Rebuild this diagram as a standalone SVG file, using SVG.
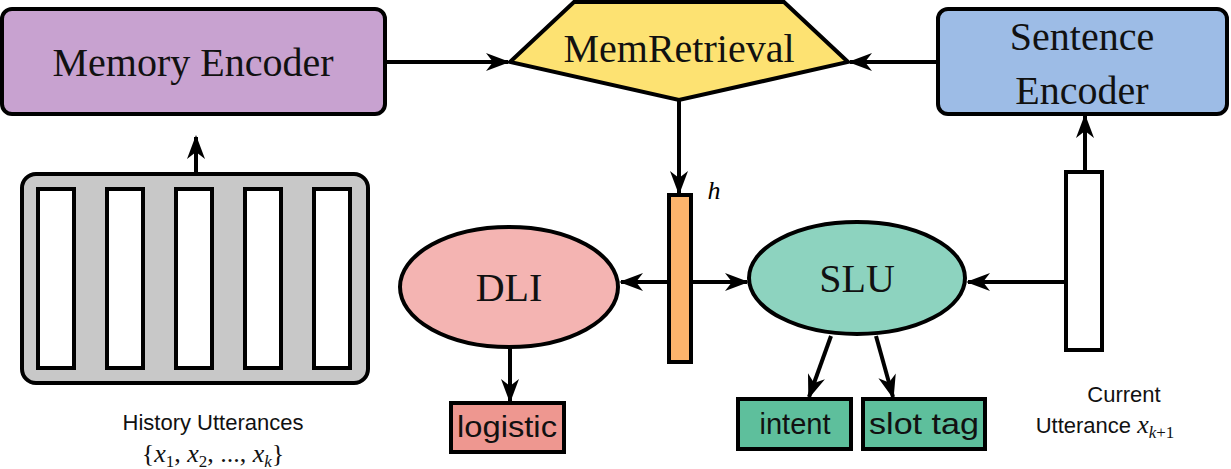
<svg xmlns="http://www.w3.org/2000/svg" width="1231" height="469" viewBox="0 0 1231 469">
<style>
.s{stroke:#000;stroke-width:4}
.c{stroke:#000;stroke-width:4;fill:none}
.t{font-family:"Liberation Serif",serif;font-size:40px;text-anchor:middle;fill:#111}
.a{font-family:"Liberation Sans",sans-serif;font-size:29px;text-anchor:middle;fill:#111}
.l{font-family:"Liberation Sans",sans-serif;font-size:22px;text-anchor:middle;fill:#111}
.m{font-family:"Liberation Serif",serif;font-style:italic}
</style>
<defs>
<marker id="ar" markerWidth="12" markerHeight="12" refX="10" refY="6" orient="auto" markerUnits="userSpaceOnUse" viewBox="0 0 12 12">
<path d="M0,0 L12,6 L0,12 L4,6 Z" fill="#000"/>
</marker>
<marker id="ar2" markerWidth="24" markerHeight="20" refX="22" refY="10" orient="auto" markerUnits="userSpaceOnUse" viewBox="0 0 24 20">
<path d="M0,1 L24,10 L0,19 L7,10 Z" fill="#000"/>
</marker>
</defs>
<g id="connectors">
<path class="c" d="M385,62 H508" marker-end="url(#ar2)"/>
<path class="c" d="M938,62 H850" marker-end="url(#ar2)"/>
<path class="c" d="M196,174 V137" marker-end="url(#ar2)"/>
<path class="c" d="M679,100 V193" marker-end="url(#ar2)"/>
<path class="c" d="M669,282 H621" marker-end="url(#ar2)"/>
<path class="c" d="M691,282 H747" marker-end="url(#ar2)"/>
<path class="c" d="M1066,282 H968" marker-end="url(#ar2)"/>
<path class="c" d="M1085,172 V116" marker-end="url(#ar2)"/>
<path class="c" d="M510,347 V401" marker-end="url(#ar2)"/>
<path class="c" d="M831,336 L809,397" marker-end="url(#ar2)"/>
<path class="c" d="M876,336 L893,397" marker-end="url(#ar2)"/>
</g>
<g id="memory-encoder">
<rect class="s" x="2" y="9" width="383" height="105" rx="10" fill="#C8A2D0"/>
<text class="t" x="193" y="76">Memory Encoder</text>
</g>
<g id="memretrieval">
<polygon class="s" points="510,62 574,2 784,2 848,62 679,100" fill="#FDE272"/>
<text class="t" x="679" y="62">MemRetrieval</text>
</g>
<g id="sentence-encoder">
<rect class="s" x="938" y="9" width="289" height="105" rx="10" fill="#9DBCE6"/>
<text class="t" x="1082" y="50">Sentence</text>
<text class="t" x="1082" y="104">Encoder</text>
</g>
<g id="history">
<rect class="s" x="22" y="174" width="346" height="209" rx="14" fill="#C8C8C8"/>
<rect class="s" x="38" y="189" width="36" height="179" fill="#fff"/>
<rect class="s" x="107" y="189" width="36" height="179" fill="#fff"/>
<rect class="s" x="176" y="189" width="36" height="179" fill="#fff"/>
<rect class="s" x="245" y="189" width="36" height="179" fill="#fff"/>
<rect class="s" x="314" y="189" width="36" height="179" fill="#fff"/>
<text class="l" x="213" y="430">History Utterances</text>
<text class="l" x="213" y="462" style="font-family:'Liberation Serif',serif;font-size:26px">{<tspan class="m">x</tspan><tspan font-size="17" dy="5">1</tspan><tspan dy="-5">, </tspan><tspan class="m">x</tspan><tspan font-size="17" dy="5">2</tspan><tspan dy="-5">, ..., </tspan><tspan class="m">x</tspan><tspan class="m" font-size="17" dy="5">k</tspan><tspan dy="-5">}</tspan></text>
</g>
<g id="h">
<rect class="s" x="669" y="195" width="22" height="167" fill="#FCB46C"/>
<text x="714" y="199" class="m" font-size="26" text-anchor="middle">h</text>
</g>
<g id="dli">
<ellipse class="s" cx="509" cy="287" rx="109" ry="60" fill="#F4B4B2"/>
<text class="t" x="509" y="301">DLI</text>
</g>
<g id="slu">
<ellipse class="s" cx="857" cy="278" rx="108" ry="56" fill="#8DD3BF"/>
<text class="t" x="857" y="292">SLU</text>
</g>
<g id="current">
<rect class="s" x="1066" y="172" width="36" height="178" fill="#fff"/>
<text class="l" x="1124" y="402">Current</text>
<text class="l" x="1105" y="433">Utterance <tspan class="m" font-size="26">x</tspan><tspan font-family="Liberation Serif" font-size="17" dy="5"><tspan font-style="italic">k</tspan>+1</tspan></text>
</g>
<g id="logistic">
<rect class="s" x="451" y="403" width="113" height="49" fill="#EE9790"/>
<text class="a" x="507" y="437" textLength="100" lengthAdjust="spacingAndGlyphs">logistic</text>
</g>
<g id="intent">
<rect class="s" x="738" y="399" width="113" height="50" fill="#5EBF9C"/>
<text class="a" x="795" y="434">intent</text>
</g>
<g id="slot">
<rect class="s" x="863" y="399" width="122" height="50" fill="#5EBF9C"/>
<text class="a" x="924" y="434" textLength="110" lengthAdjust="spacingAndGlyphs">slot tag</text>
</g>
</svg>
